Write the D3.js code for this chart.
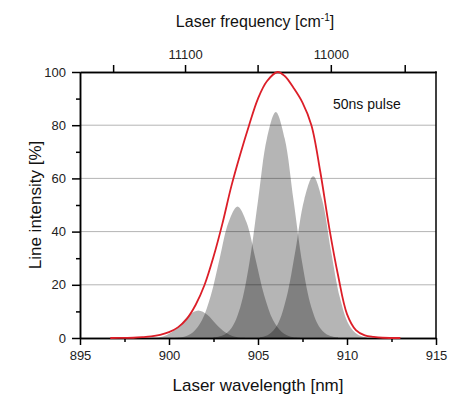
<!DOCTYPE html>
<html>
<head>
<meta charset="utf-8">
<script src="https://cdn.jsdelivr.net/npm/d3@7"></script>
<style>
  body { margin: 0; background: #fff; }
  svg { display: block; font-family: "Liberation Sans", Arial, sans-serif; }
</style>
</head>
<body>
<div id="chart"></div>
<script>
// laser spectrum envelope (red), wavelength nm -> intensity %
const envelopeWl  = [896.7, 897.5, 898, 898.5, 899, 899.5, 900, 900.5, 901, 901.5, 902, 902.5, 903, 903.5, 904, 904.5, 905, 905.5, 906.1, 906.5, 907, 907.5, 908, 908.5, 909, 909.5, 910, 910.5, 911, 911.5, 912, 913];
const envelopeVal = [0, 0.05, 0.1, 0.3, 0.6, 1.2, 2.2, 4.0, 7.2, 12.5, 20, 30.5, 43, 57, 69, 80, 90, 96.5, 100, 98.5, 94, 88.5, 80, 62.5, 41.5, 23.5, 9, 3, 1, 0.4, 0.1, 0];

// the four cavity lines (grey)
const line1Wl  = [898.65, 899.15, 899.65, 900.15, 900.65, 901.15, 901.65, 902.15, 902.65, 903.15, 903.65, 904.15, 904.65];
const line1Val = [0, 0.1, 0.6, 2.2, 5.2, 8.7, 10.3, 8.7, 5.2, 2.2, 0.6, 0.1, 0];
const line2Wl  = [900.35, 900.85, 901.35, 901.85, 902.35, 902.85, 903.35, 903.85, 904.35, 904.85, 905.35, 905.85, 906.35, 906.85, 907.35];
const line2Val = [0.1, 0.5, 2.2, 6.7, 16.0, 30.0, 43.6, 49.4, 43.6, 30.0, 16.0, 6.7, 2.2, 0.5, 0.1];
const line3Wl  = [902.5, 903, 903.5, 904, 904.5, 905, 905.5, 906, 906.5, 907, 907.5, 908, 908.5, 909, 909.5];
const line3Val = [0.2, 0.9, 3.7, 11.5, 27.6, 51.6, 75.0, 85, 75.0, 51.6, 27.6, 11.5, 3.7, 0.9, 0.2];
const line4Wl  = [905.1, 905.6, 906.1, 906.6, 907.1, 907.6, 908.1, 908.6, 909.1, 909.6, 910.1, 910.6, 911.1];
const line4Val = [0.2, 1.3, 5.1, 15.2, 32.8, 52.1, 60.8, 52.1, 32.8, 15.2, 5.1, 1.3, 0.2];

const wavelengthTicks = [895, 900, 905, 910, 915];
const wavelengthMinor = [897.5, 902.5, 907.5, 912.5];
const intensityTicks = [0, 20, 40, 60, 80, 100];
const intensityMinor = [10, 30, 50, 70, 90];
const gridValues = [20, 40, 60, 80];
const frequencyTicks = [11100, 11000];
const frequencyMinor = [11150, 11050, 10950];

const W = 474, H = 399;
const X0 = 80, X1 = 436, Y0 = 338, Y1 = 72;

const svg = d3.select("#chart").append("svg")
    .attr("width", W)
    .attr("height", H);

const x = d3.scaleLinear().domain([895, 915]).range([X0, X1]);
const y = d3.scaleLinear().domain([0, 100]).range([Y0, Y1]);

// grid
svg.append("g").selectAll("line")
    .data(gridValues)
    .enter().append("line")
    .attr("x1", X0).attr("x2", X1)
    .attr("y1", d => y(d)).attr("y2", d => y(d))
    .attr("stroke", "#b4b4b4")
    .attr("stroke-width", 1);

// grey lines
const area = d3.area()
    .x(d => x(d[0]))
    .y0(y(0))
    .y1(d => y(d[1]))
    .curve(d3.curveCatmullRom.alpha(0.5));

const lines = [
  d3.zip(line1Wl, line1Val),
  d3.zip(line2Wl, line2Val),
  d3.zip(line3Wl, line3Val),
  d3.zip(line4Wl, line4Val)
];

svg.append("g").selectAll("path")
    .data(lines)
    .enter().append("path")
    .attr("d", area)
    .attr("fill", "#000")
    .attr("fill-opacity", 0.29);

// axes
const axisColor = "#000";
function styleAxis(g) {
  g.select(".domain").attr("stroke", axisColor).attr("stroke-width", 1.5);
  g.selectAll(".tick line").attr("stroke", axisColor).attr("stroke-width", 1.5);
  g.selectAll(".tick text").attr("fill", "#222").style("font-size", "13px")
      .style("font-family", "'Liberation Sans', Arial, sans-serif");
}

// bottom
svg.append("g")
    .attr("transform", `translate(0,${Y0})`)
    .call(d3.axisBottom(x).tickValues(wavelengthTicks).tickSize(7).tickPadding(6).tickSizeOuter(0))
    .call(styleAxis);
svg.append("g")
    .attr("transform", `translate(0,${Y0})`)
    .call(d3.axisBottom(x).tickValues(wavelengthMinor).tickSize(4).tickFormat("").tickSizeOuter(0))
    .call(styleAxis);

// left
svg.append("g")
    .attr("transform", `translate(${X0},0)`)
    .call(d3.axisLeft(y).tickValues(intensityTicks).tickSize(8).tickPadding(6).tickSizeOuter(0))
    .call(styleAxis);
svg.append("g")
    .attr("transform", `translate(${X0},0)`)
    .call(d3.axisLeft(y).tickValues(intensityMinor).tickSize(4).tickFormat("").tickSizeOuter(0))
    .call(styleAxis);

// top: frequency in cm-1, wavelength = 1e7 / frequency
svg.append("g")
    .attr("transform", `translate(0,${Y1})`)
    .call(d3.axisTop(x).tickValues(frequencyTicks.map(f => 1e7 / f)).tickSize(7).tickPadding(6)
        .tickFormat(d => Math.round(1e7 / d)).tickSizeOuter(0))
    .call(styleAxis);
svg.append("g")
    .attr("transform", `translate(0,${Y1})`)
    .call(d3.axisTop(x).tickValues(frequencyMinor.map(f => 1e7 / f)).tickSize(7).tickFormat("").tickSizeOuter(0))
    .call(styleAxis);

// right border
svg.append("line")
    .attr("x1", X1).attr("x2", X1)
    .attr("y1", Y1 - 0.75).attr("y2", Y0 + 0.75)
    .attr("stroke", axisColor).attr("stroke-width", 1.5);

// envelope
const line = d3.line()
    .x(d => x(d[0]))
    .y(d => y(d[1]))
    .curve(d3.curveCatmullRom.alpha(0.5));

svg.append("path")
    .datum(d3.zip(envelopeWl, envelopeVal))
    .attr("d", line)
    .attr("fill", "none")
    .attr("stroke", "#dc1e28")
    .attr("stroke-width", 1.8);

// labels
svg.append("text")
    .attr("x", (X0 + X1) / 2).attr("y", 391)
    .attr("text-anchor", "middle")
    .style("font-size", "17px")
    .attr("fill", "#111")
    .text("Laser wavelength [nm]");

const topTitle = svg.append("text")
    .attr("x", 255).attr("y", 27)
    .attr("text-anchor", "middle")
    .style("font-size", "16px")
    .attr("fill", "#111");
topTitle.append("tspan").text("Laser frequency [cm");
topTitle.append("tspan").attr("dy", -6).style("font-size", "10px").text("-1");
topTitle.append("tspan").attr("dy", 6).text("]");

svg.append("text")
    .attr("transform", `translate(41,${(Y0 + Y1) / 2}) rotate(-90)`)
    .attr("text-anchor", "middle")
    .style("font-size", "17px")
    .attr("fill", "#111")
    .text("Line intensity [%]");

svg.append("text")
    .attr("x", 333).attr("y", 109)
    .style("font-size", "14px")
    .attr("fill", "#111")
    .text("50ns pulse");
</script>
</body>
</html>
